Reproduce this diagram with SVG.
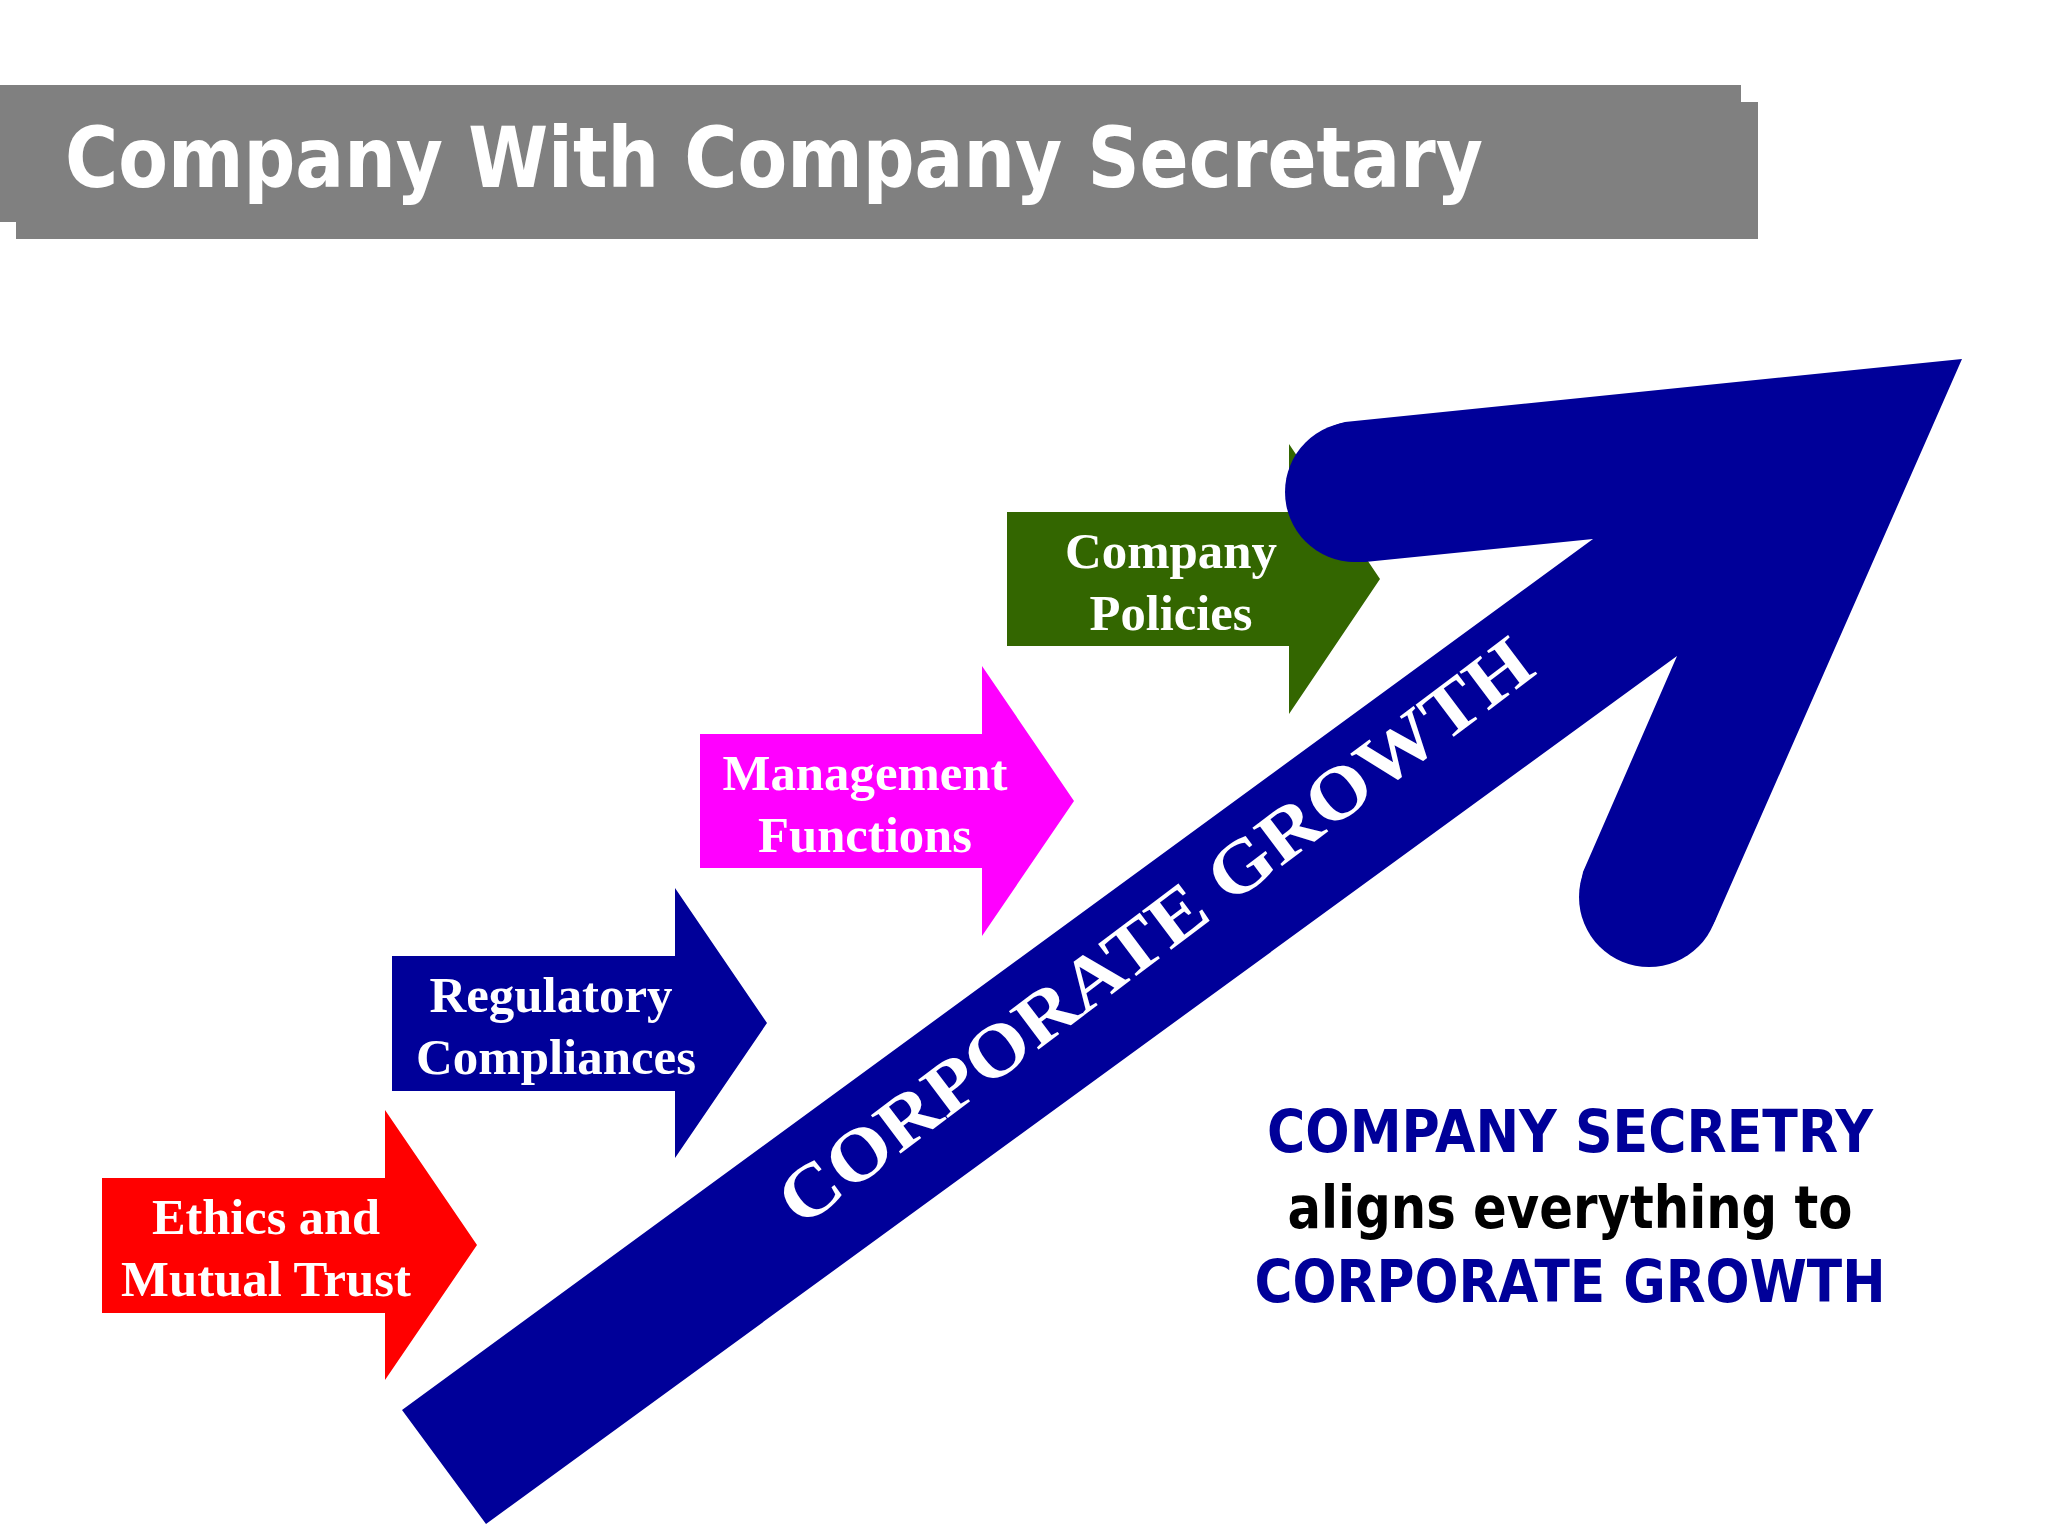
<svg xmlns="http://www.w3.org/2000/svg" width="2048" height="1536" viewBox="0 0 2048 1536">
<style>
.st{font-family:"Liberation Serif","Times New Roman",serif;font-weight:bold;font-size:50px;fill:#fff;text-anchor:middle}
.rt{font-family:"DejaVu Sans",Verdana,sans-serif;font-weight:bold;font-size:58px;text-anchor:middle}
</style>
<rect width="2048" height="1536" fill="#fff"/>
<g id="title">
<rect x="0" y="85" width="1741" height="137" fill="#808080"/>
<rect x="16" y="102" width="1742" height="137" fill="#808080"/>
<text x="65" y="187" font-family="DejaVu Sans,Verdana,sans-serif" font-weight="bold" font-size="84" fill="#fff" textLength="1418" lengthAdjust="spacingAndGlyphs">Company With Company Secretary</text>
</g>
<g id="ethics">
<path d="M102,1178 H385 V1110 L477,1245 L385,1380 V1313 H102 Z" fill="#ff0000"/>
<text class="st" x="266" y="1234" textLength="228" lengthAdjust="spacingAndGlyphs">Ethics and</text>
<text class="st" x="266" y="1296" textLength="290" lengthAdjust="spacingAndGlyphs">Mutual Trust</text>
</g>
<g id="regulatory">
<path d="M392,956 H675 V888 L767,1023 L675,1158 V1091 H392 Z" fill="#000099"/>
<text class="st" x="551" y="1012" textLength="243" lengthAdjust="spacingAndGlyphs">Regulatory</text>
<text class="st" x="556" y="1074" textLength="280" lengthAdjust="spacingAndGlyphs">Compliances</text>
</g>
<g id="management">
<path d="M700,734 H982 V666 L1074,801 L982,936 V868 H700 Z" fill="#ff00ff"/>
<text class="st" x="865" y="790" textLength="285" lengthAdjust="spacingAndGlyphs">Management</text>
<text class="st" x="865" y="852" textLength="214" lengthAdjust="spacingAndGlyphs">Functions</text>
</g>
<g id="policies">
<path d="M1007,512 H1289 V444 L1380,579 L1289,714 V646 H1007 Z" fill="#336600"/>
<text class="st" x="1171" y="568" textLength="212" lengthAdjust="spacingAndGlyphs">Company</text>
<text class="st" x="1171" y="630" textLength="163" lengthAdjust="spacingAndGlyphs">Policies</text>
</g>
<g id="growth">
<path d="M402,1410 L1593,539 L1365,562 A71 71 0 0 1 1345,422 L1962,359 L1715,921 A71 71 0 0 1 1583,872 L1677,656 L486,1524 Z" fill="#000099"/>
<circle cx="1355" cy="492" r="70" fill="#000099"/>
<circle cx="1649" cy="897" r="70" fill="#000099"/>
<text transform="translate(1154,930) rotate(-37)" x="0" y="26" font-family="Liberation Serif,serif" font-weight="bold" font-size="74" fill="#fff" text-anchor="middle" textLength="923" lengthAdjust="spacingAndGlyphs">CORPORATE GROWTH</text>
</g>
<g id="caption">
<text class="rt" x="1570" y="1152" fill="#000099" textLength="606" lengthAdjust="spacingAndGlyphs">COMPANY SECRETRY</text>
<text class="rt" x="1570" y="1228" fill="#000" textLength="565" lengthAdjust="spacingAndGlyphs">aligns everything to</text>
<text class="rt" x="1570" y="1302" fill="#000099" textLength="631" lengthAdjust="spacingAndGlyphs">CORPORATE GROWTH</text>
</g>
</svg>
